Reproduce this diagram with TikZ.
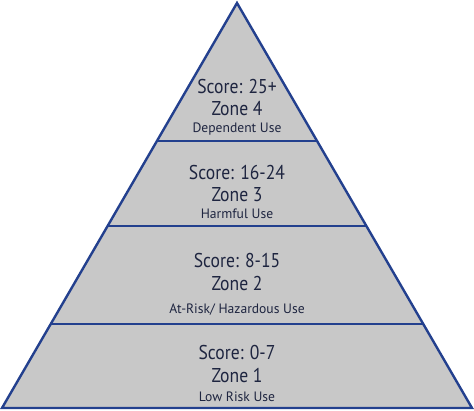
\documentclass[tikz,border=0pt]{standalone}
\usepackage{fontspec}
\setmainfont{PT Sans}
\newfontfamily\bigfont[FakeStretch=0.88]{PT Sans}
\definecolor{edge}{HTML}{23408E}
\definecolor{fillg}{HTML}{C8C8C8}
\definecolor{txt}{HTML}{1E2540}
\begin{document}
\begin{tikzpicture}[x=1pt,y=-1pt,
  big/.style={text=txt,font=\bigfont\fontsize{20}{24}\selectfont,inner sep=0pt,anchor=base},
  small/.style={text=txt,font=\fontsize{13.6}{15}\selectfont,inner sep=0pt,anchor=base},
  band/.style={draw=edge,line width=2.4pt}]
\useasboundingbox (0,0) rectangle (474,410);
\coordinate (apex) at (237,3);
\coordinate (bl) at (2,408);
\coordinate (br) at (472,408);
\fill[fillg] (apex) -- (br) -- (bl) -- cycle;
% divider lines
\coordinate (l1) at ({237-0.5802*(141-3)},141);
\coordinate (r1) at ({237+0.5802*(141-3)},141);
\coordinate (l2) at ({237-0.5802*(226-3)},226);
\coordinate (r2) at ({237+0.5802*(226-3)},226);
\coordinate (l3) at ({237-0.5802*(324-3)},324);
\coordinate (r3) at ({237+0.5802*(324-3)},324);
\draw[band] (l1) -- (r1);
\draw[band] (l2) -- (r2);
\draw[band] (l3) -- (r3);
\draw[band,line join=miter] (apex) -- (br) -- (bl) -- cycle;
% zone 4
\node[big] (s4) at (237,93) {Score: 25+};
\node[big] (z4) at (237,115.5) {Zone 4};
\node[small] (u4) at (237,132.5) {Dependent Use};
% zone 3
\node[big] (s3) at (237,179) {Score: 16-24};
\node[big] (z3) at (237,201) {Zone 3};
\node[small] (u3) at (237,218) {Harmful Use};
% zone 2
\node[big] (s2) at (237,267) {Score: 8-15};
\node[big] (z2) at (237,290) {Zone 2};
\node[small] (u2) at (237,313) {At-Risk/ Hazardous Use};
% zone 1
\node[big] (s1) at (237,359) {Score: 0-7};
\node[big] (z1) at (237,382) {Zone 1};
\node[small] (u1) at (237,401) {Low Risk Use};
\end{tikzpicture}
\end{document}
